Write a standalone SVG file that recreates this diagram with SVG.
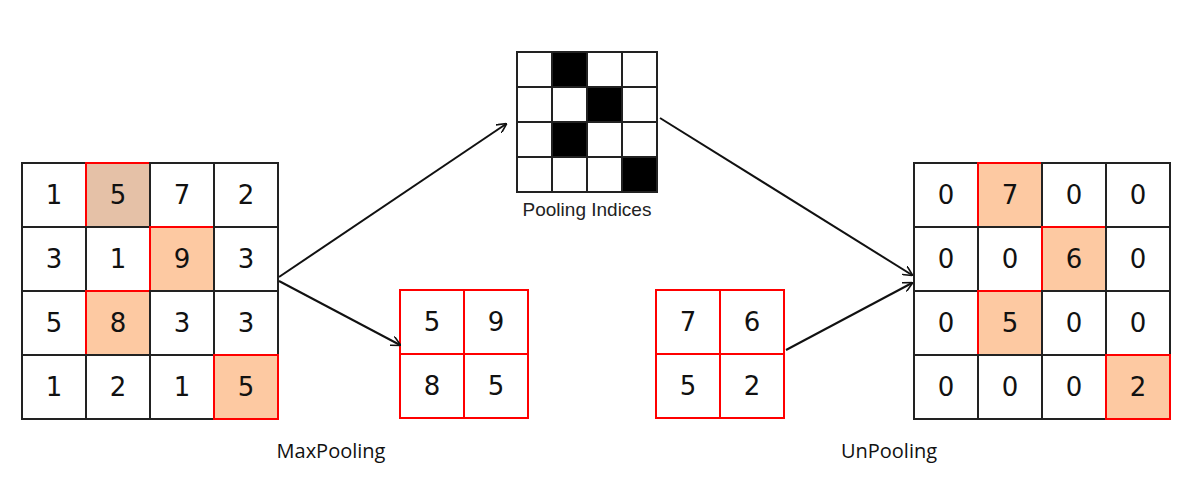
<svg xmlns="http://www.w3.org/2000/svg" width="1194" height="486" viewBox="0 0 1194 486">
<defs>
<style>
.c{fill:#fff;stroke:#222;stroke-width:2}
.h{fill:#fdc9a2;stroke:#f00;stroke-width:2}
.k{fill:#000;stroke:#222;stroke-width:2}
.r{fill:#fff;stroke:#f00;stroke-width:2}
.n{font-family:"DejaVu Sans",sans-serif;font-size:26px;fill:#111;text-anchor:middle;dominant-baseline:central}
.l{font-family:"Open Sans",sans-serif;font-size:20px;fill:#111;text-anchor:middle}
.e{stroke:#111;stroke-width:2;fill:none;marker-end:url(#a)}
</style>
<marker id="a" viewBox="0 0 10 10" refX="9" refY="5" markerWidth="10" markerHeight="10" markerUnits="userSpaceOnUse" orient="auto"><path d="M0,0 L10,5 L0,10" fill="none" stroke="#111" stroke-width="1.6"/></marker>
</defs>
<g id="input">
<rect class="c" x="22" y="163" width="64" height="64"/><rect x="86" y="163" width="64" height="64" fill="#e5c1a7" stroke="#f00" stroke-width="2"/><rect class="c" x="150" y="163" width="64" height="64"/><rect class="c" x="214" y="163" width="64" height="64"/>
<rect class="c" x="22" y="227" width="64" height="64"/><rect class="c" x="86" y="227" width="64" height="64"/><rect class="h" x="150" y="227" width="64" height="64"/><rect class="c" x="214" y="227" width="64" height="64"/>
<rect class="c" x="22" y="291" width="64" height="64"/><rect class="h" x="86" y="291" width="64" height="64"/><rect class="c" x="150" y="291" width="64" height="64"/><rect class="c" x="214" y="291" width="64" height="64"/>
<rect class="c" x="22" y="355" width="64" height="64"/><rect class="c" x="86" y="355" width="64" height="64"/><rect class="c" x="150" y="355" width="64" height="64"/><rect class="h" x="214" y="355" width="64" height="64"/>
<text class="n" x="54" y="195">1</text><text class="n" x="118" y="195">5</text><text class="n" x="182" y="195">7</text><text class="n" x="246" y="195">2</text>
<text class="n" x="54" y="259">3</text><text class="n" x="118" y="259">1</text><text class="n" x="182" y="259">9</text><text class="n" x="246" y="259">3</text>
<text class="n" x="54" y="323">5</text><text class="n" x="118" y="323">8</text><text class="n" x="182" y="323">3</text><text class="n" x="246" y="323">3</text>
<text class="n" x="54" y="387">1</text><text class="n" x="118" y="387">2</text><text class="n" x="182" y="387">1</text><text class="n" x="246" y="387">5</text>
</g>
<g id="indices">
<rect class="c" x="517" y="52" width="35" height="35"/><rect class="k" x="552" y="52" width="35" height="35"/><rect class="c" x="587" y="52" width="35" height="35"/><rect class="c" x="622" y="52" width="35" height="35"/>
<rect class="c" x="517" y="87" width="35" height="35"/><rect class="c" x="552" y="87" width="35" height="35"/><rect class="k" x="587" y="87" width="35" height="35"/><rect class="c" x="622" y="87" width="35" height="35"/>
<rect class="c" x="517" y="122" width="35" height="35"/><rect class="k" x="552" y="122" width="35" height="35"/><rect class="c" x="587" y="122" width="35" height="35"/><rect class="c" x="622" y="122" width="35" height="35"/>
<rect class="c" x="517" y="157" width="35" height="35"/><rect class="c" x="552" y="157" width="35" height="35"/><rect class="c" x="587" y="157" width="35" height="35"/><rect class="k" x="622" y="157" width="35" height="35"/>
<text x="587" y="216" font-family="Liberation Sans,sans-serif" font-size="19" fill="#222" text-anchor="middle">Pooling Indices</text>
</g>
<g id="pooled">
<rect class="r" x="400" y="290" width="64" height="64"/><rect class="r" x="464" y="290" width="64" height="64"/><rect class="r" x="400" y="354" width="64" height="64"/><rect class="r" x="464" y="354" width="64" height="64"/>
<text class="n" x="432" y="322">5</text><text class="n" x="496" y="322">9</text><text class="n" x="432" y="386">8</text><text class="n" x="496" y="386">5</text>
<text class="l" x="331" y="458">MaxPooling</text>
</g>
<g id="small">
<rect class="r" x="656" y="290" width="64" height="64"/><rect class="r" x="720" y="290" width="64" height="64"/><rect class="r" x="656" y="354" width="64" height="64"/><rect class="r" x="720" y="354" width="64" height="64"/>
<text class="n" x="688" y="322">7</text><text class="n" x="752" y="322">6</text><text class="n" x="688" y="386">5</text><text class="n" x="752" y="386">2</text>
<text class="l" x="889" y="458">UnPooling</text>
</g>
<g id="output">
<rect class="c" x="914" y="163" width="64" height="64"/><rect class="h" x="978" y="163" width="64" height="64"/><rect class="c" x="1042" y="163" width="64" height="64"/><rect class="c" x="1106" y="163" width="64" height="64"/>
<rect class="c" x="914" y="227" width="64" height="64"/><rect class="c" x="978" y="227" width="64" height="64"/><rect class="h" x="1042" y="227" width="64" height="64"/><rect class="c" x="1106" y="227" width="64" height="64"/>
<rect class="c" x="914" y="291" width="64" height="64"/><rect class="h" x="978" y="291" width="64" height="64"/><rect class="c" x="1042" y="291" width="64" height="64"/><rect class="c" x="1106" y="291" width="64" height="64"/>
<rect class="c" x="914" y="355" width="64" height="64"/><rect class="c" x="978" y="355" width="64" height="64"/><rect class="c" x="1042" y="355" width="64" height="64"/><rect class="h" x="1106" y="355" width="64" height="64"/>
<text class="n" x="946" y="195">0</text><text class="n" x="1010" y="195">7</text><text class="n" x="1074" y="195">0</text><text class="n" x="1138" y="195">0</text>
<text class="n" x="946" y="259">0</text><text class="n" x="1010" y="259">0</text><text class="n" x="1074" y="259">6</text><text class="n" x="1138" y="259">0</text>
<text class="n" x="946" y="323">0</text><text class="n" x="1010" y="323">5</text><text class="n" x="1074" y="323">0</text><text class="n" x="1138" y="323">0</text>
<text class="n" x="946" y="387">0</text><text class="n" x="1010" y="387">0</text><text class="n" x="1074" y="387">0</text><text class="n" x="1138" y="387">2</text>
</g>
<g id="connectors">
<line class="e" x1="279" y1="277" x2="506" y2="124"/>
<line class="e" x1="279" y1="281" x2="400" y2="345"/>
<line class="e" x1="660" y1="118" x2="912" y2="275"/>
<line class="e" x1="786" y1="350" x2="912" y2="283"/>
</g>
</svg>
